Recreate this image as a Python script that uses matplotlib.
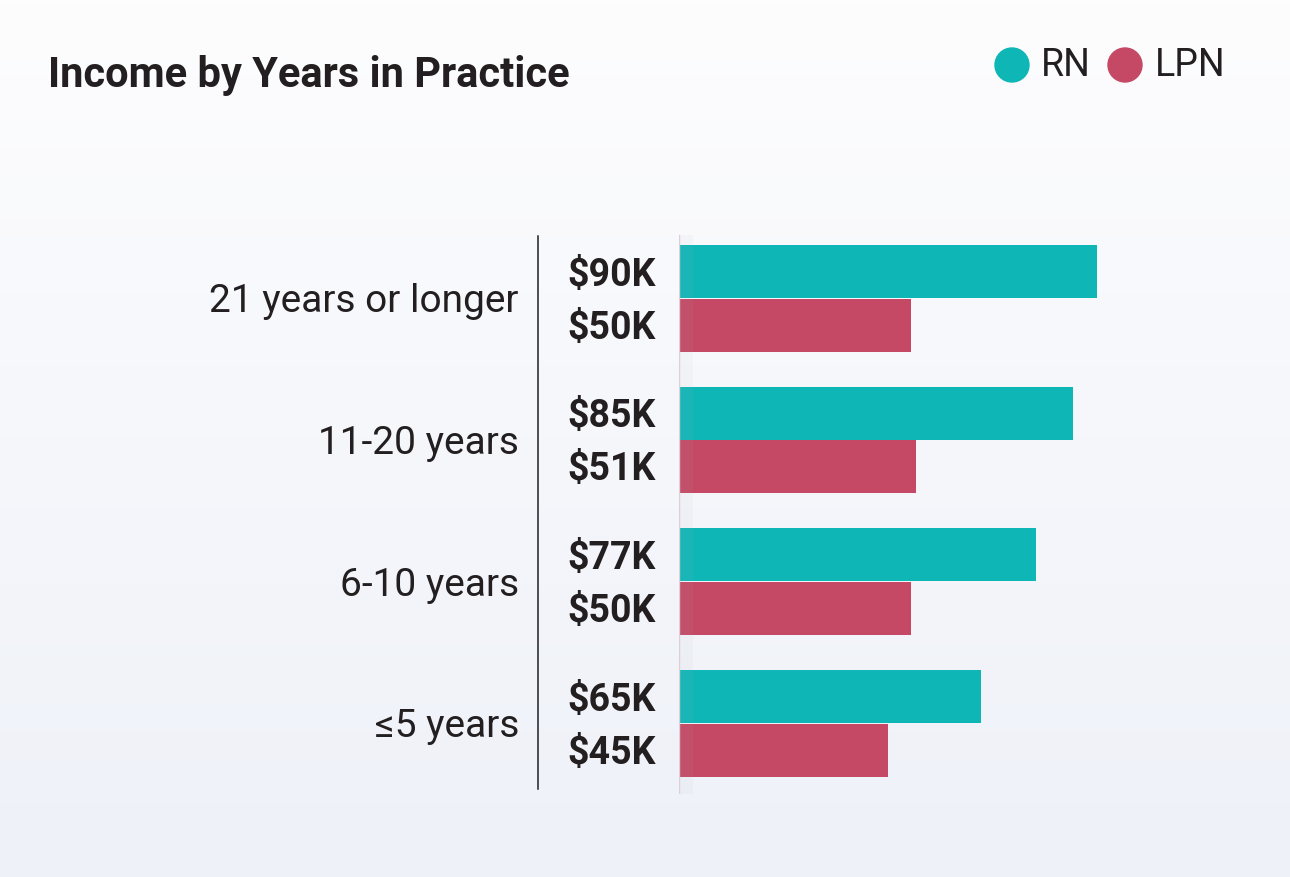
import numpy as np
import matplotlib.pyplot as plt
from matplotlib.patches import Ellipse

## data
categories = ['21 years or longer', '11-20 years', '6-10 years', '\u22645 years']
rn_income = [90, 85, 77, 65]
lpn_income = [50, 51, 50, 45]
rn_labels = ['$90K', '$85K', '$77K', '$65K']
lpn_labels = ['$50K', '$51K', '$50K', '$45K']

teal = '#0fb6b6'
pink = '#c54964'
dark = '#231f20'

plt.rcParams['font.family'] = ['Roboto', 'DejaVu Sans']

W, H = 1290, 878
fig = plt.figure(figsize=(W / 100, H / 100), dpi=100)

## background gradient
bg = fig.add_axes([0, 0, 1, 1], zorder=-10)
grad = np.linspace(0, 1, 256).reshape(-1, 1)
top = np.array([0xfd, 0xfd, 0xfe]) / 255
bot = np.array([0xee, 0xf1, 0xf8]) / 255
img = top + (bot - top) * grad[..., None]
bg.imshow(img, aspect='auto', extent=[0, 1, 0, 1])
bg.set_axis_off()

## bar axes (pixel geometry of the reference)
x0, px_per_k = 679, 4.64
ytop, ybot = 228, 795
ax = fig.add_axes([x0 / W, 1 - ybot / H, 100 * px_per_k / W, (ybot - ytop) / H])
ax.set_xlim(0, 100)
ax.set_ylim(len(categories) - 0.5, -0.5)
ax.patch.set_alpha(0)
for s in ax.spines.values():
    s.set_visible(False)
ax.set_xticks([])
ax.set_yticks([])

h = 0.374
pos = np.arange(len(categories))
ax.barh(pos - h / 2, rn_income, height=h, color=teal, zorder=3)
ax.barh(pos + h / 2 + 0.005, lpn_income, height=h, color=pink, zorder=3)

# faint baseline with a soft shadow
ax.axvline(0, ymin=0, ymax=0.986, color='#dccfd5', lw=1, zorder=4)
ax.axvspan(0.3, 3.0, ymin=0, ymax=0.986, color='#b0b4bc', alpha=0.07, lw=0, zorder=4)

dy = 0.02
for i in range(len(categories)):
    ax.text(-5, pos[i] - h / 2 + dy, rn_labels[i], ha='right', va='center',
            fontsize=27, fontweight='bold', color=dark)
    ax.text(-5, pos[i] + h / 2 + dy, lpn_labels[i], ha='right', va='center',
            fontsize=27, fontweight='bold', color=dark)
    ax.text(-34.5, pos[i] + dy, categories[i], ha='right', va='center',
            fontsize=28, color=dark)

# left separator line
fig.add_artist(plt.Line2D([538 / W, 538 / W], [1 - 237 / H, 1 - 790 / H],
                          color=dark, lw=1.1))

## title
fig.text(48 / W, 1 - 75 / H, 'Income by Years in Practice', ha='left', va='center',
         fontsize=30, fontweight='bold', color=dark)

## legend
for cx, col, lab, tx in [(1012, teal, 'RN', 1041), (1125, pink, 'LPN', 1155)]:
    fig.add_artist(Ellipse((cx / W, 1 - 66 / H), 34 / W, 34 / H, color=col,
                           transform=fig.transFigure))
    fig.text(tx / W, 1 - 66 / H, lab, ha='left', va='center',
             fontsize=27, color=dark)

plt.savefig('out.png', dpi=100)
